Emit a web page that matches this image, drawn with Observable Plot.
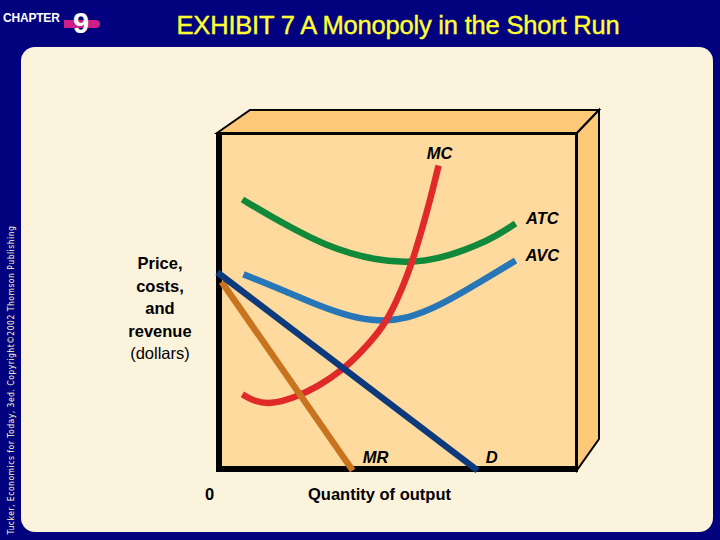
<!DOCTYPE html>
<html><head><meta charset="utf-8">
<script src="https://cdn.jsdelivr.net/npm/d3@7"></script>
<script src="https://cdn.jsdelivr.net/npm/@observablehq/plot@0.6"></script>
<style>
html,body{margin:0;padding:0;}
body{width:720px;height:540px;background:#02027e;position:relative;overflow:hidden;font-family:"Liberation Sans",Arial,sans-serif;}
#panel{position:absolute;left:21px;top:47px;width:692px;height:485px;background:#fcf3dd;border-radius:14px;}
#deco{position:absolute;left:0;top:0;}
#chart{position:absolute;left:0;top:0;}
#title{position:absolute;left:0;width:796px;top:11px;text-align:center;color:#ffff33;font-size:25.5px;letter-spacing:-0.2px;-webkit-text-stroke:0.4px #ffff33;}
#chap{position:absolute;left:3px;top:11px;color:#fff;font-size:12px;font-weight:bold;letter-spacing:-0.2px;transform:scaleY(1.1);}
#bar{position:absolute;left:64px;top:20px;width:36px;height:8px;background:#cc1f8a;border-radius:0 4px 4px 0;}
#nine{position:absolute;left:73px;top:7px;color:#fff;font-size:29px;font-weight:bold;}
#side{position:absolute;left:11px;top:380px;transform:translate(-50%,-50%) rotate(-90deg);white-space:nowrap;color:#ffffcc;font-size:8.5px;letter-spacing:0.5px;font-family:"DejaVu Sans Condensed","DejaVu Sans",sans-serif;}
#ylab{position:absolute;left:100px;width:120px;top:252px;text-align:center;font-size:16.5px;line-height:22.6px;font-weight:bold;color:#000;}
#ylab span{font-weight:normal;}
.xl{position:absolute;top:485px;font-size:16.5px;font-weight:bold;color:#000;}
</style></head>
<body>
<div id="panel"></div>
<svg id="deco" width="720" height="540">
  <polygon points="217,133 250,110 599,110 577,133" fill="#fec879" stroke="#000" stroke-width="2"/>
  <polygon points="577,133 599,110 599,439 577,470" fill="#fec879" stroke="#000" stroke-width="2"/>
  <rect x="218" y="134" width="358" height="335" fill="#ffda9e" stroke="#000" stroke-width="2"/>
  <line x1="219" y1="133" x2="219" y2="472" stroke="#000" stroke-width="6"/>
  <line x1="216" y1="469" x2="578" y2="469" stroke="#000" stroke-width="6"/>
</svg>
<div id="title">EXHIBIT 7 A Monopoly in the Short Run</div>
<div id="bar"></div>
<div id="chap">CHAPTER</div>
<div id="nine">9</div>
<div id="side">Tucker, Economics for Today, 3ed. Copyright©2002 Thomson Publishing</div>
<div id="ylab">Price,<br>costs,<br>and<br>revenue<br><span>(dollars)</span></div>
<div class="xl" style="left:205px">0</div>
<div class="xl" style="left:308px">Quantity of output</div>
<div id="chart"></div>
<script>
// quantity (0-100), price (0-100)
const mcCurve = [[6.4,22.6],[9.5,20.6],[14.2,19.6],[20.7,21.5],[27.4,24.8],[34.6,30.0],[39.4,34.9],[45.8,42.6],[49.4,50.0],[52.5,57.9],[54.8,65.2],[57.0,73.2],[59.2,81.8],[61.2,90.5]];
const atcCurve = [[6.4,80.4],[14.2,75.5],[22.6,70.6],[29.6,67.0],[36.6,64.4],[43.6,62.6],[50.6,61.8],[57.5,62.1],[64.5,63.9],[71.5,66.6],[77.5,69.7],[82.7,73.3]];
const avcCurve = [[6.7,58.2],[17.9,53.4],[27.4,49.0],[36.6,45.6],[44.1,44.2],[52.5,45.0],[61.7,49.0],[72.1,55.5],[82.7,62.3]];
const demandLine = [[-0.6,58.8],[72.1,0]];
const mrLine = [[0.6,56.0],[37.2,0]];
const curveLabels = ["MC","ATC","AVC","MR","D"];
const labelQ = [61.5,90.2,90.2,43.6,76.0];
const labelP = [94.1,74.8,63.8,3.9,3.9];

const lbl = curveLabels.map((t,i)=>({t, q:labelQ[i], p:labelP[i]}));
const lineOpts = (color, curve) => ({x:d=>d[0], y:d=>d[1], stroke:color, strokeWidth:6.5, curve, strokeLinecap:"butt"});

const chart = Plot.plot({
  width:720, height:540,
  marginLeft:219, marginRight:143, marginTop:133, marginBottom:70,
  x:{domain:[0,100], axis:null},
  y:{domain:[0,100], axis:null},
  style:{background:"transparent", overflow:"visible"},
  marks:[
    Plot.line(atcCurve, lineOpts("#11893a","basis")),
    Plot.line(avcCurve, lineOpts("#2777b8","basis")),
    Plot.line(mcCurve, lineOpts("#e02a2a","basis")),
    Plot.line(mrLine, lineOpts("#c8741f","linear")),
    Plot.line(demandLine, lineOpts("#0c3a7c","linear")),
    Plot.text(lbl, {x:"q", y:"p", text:"t", fontSize:16.5, fontWeight:"bold", fontStyle:"italic", fill:"#000", fontFamily:"Liberation Sans, Arial, sans-serif"})
  ]
});
document.getElementById("chart").appendChild(chart);
</script>
</body></html>
